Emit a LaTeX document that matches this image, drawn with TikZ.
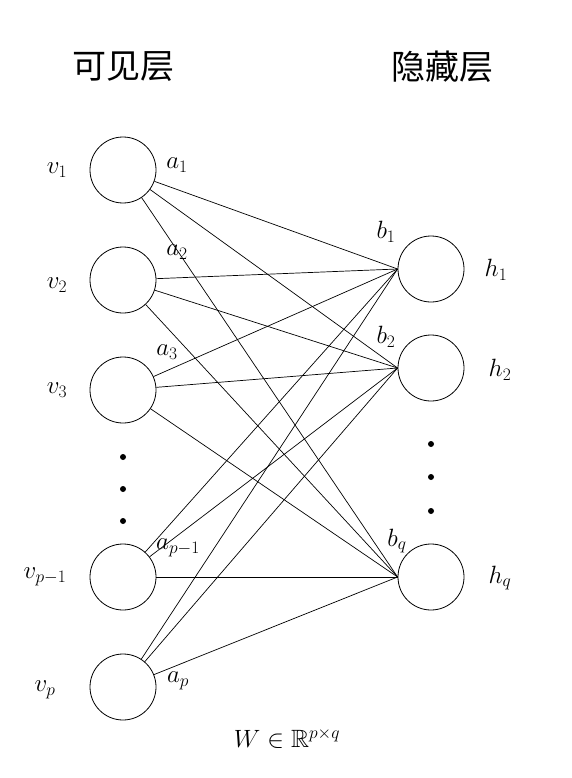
\RequirePackage{fix-cm}
\documentclass[tikz,border=0pt]{standalone}
\usepackage{amssymb}
\usepackage{fontspec}
\newfontfamily\cjk{Noto Sans CJK SC}
\begin{document}
\begin{tikzpicture}[x=1pt,y=-1pt,
  neuron/.style={circle,draw,line width=0.8pt,minimum size=66pt,inner sep=0pt},
  lab/.style={font=\fontsize{25}{30}\selectfont,inner sep=0pt},
  title/.style={font=\cjk\fontsize{34}{38}\selectfont,inner sep=0pt},
  edge/.style={line width=0.7pt},
  dotn/.style={circle,fill,inner sep=0pt,minimum size=6pt}]
\useasboundingbox (0,0) rectangle (572,778);
% titles
\node[title] (tv) at (123,67) {可见层};
\node[title] (th) at (442,67) {隐藏层};
% visible nodes
\node[neuron] (v1) at (123,170) {};
\node[neuron] (v2) at (123,280) {};
\node[neuron] (v3) at (123,390) {};
\node[neuron] (vp1) at (123,577) {};
\node[neuron] (vp) at (123,687) {};
% hidden nodes
\node[neuron] (h1) at (431,269) {};
\node[neuron] (h2) at (431,368) {};
\node[neuron] (hq) at (431,577) {};
% dots
\node[dotn] (d1) at (123,457) {};
\node[dotn] (d2) at (123,489) {};
\node[dotn] (d3) at (123,521) {};
\node[dotn] (e1) at (431,444) {};
\node[dotn] (e2) at (431,477) {};
\node[dotn] (e3) at (431,511) {};
% edges
\foreach \i in {v1,v2,v3,vp1,vp}
  \foreach \j in {h1,h2,hq}
    \draw[edge] (\i) -- (\j.west);
% visible labels
\node[lab] (lv1) at (57,170) {$v_1$};
\node[lab] (lv2) at (57,285) {$v_2$};
\node[lab] (lv3) at (57,390) {$v_3$};
\node[lab] (lvp1) at (45,577) {$v_{p-1}$};
\node[lab] (lvp) at (45,690) {$v_p$};
% a labels
\node[lab] (a1) at (177,165) {$a_1$};
\node[lab] (a2) at (177,252) {$a_2$};
\node[lab] (a3) at (167,352) {$a_3$};
\node[lab] (ap1) at (178,548) {$a_{p-1}$};
\node[lab] (ap) at (178,681) {$a_p$};
% b labels
\node[lab] (b1) at (386,232) {$b_1$};
\node[lab] (b2) at (386,337) {$b_2$};
\node[lab] (bq) at (397,541) {$b_q$};
% h labels
\node[lab] (lh1) at (496,270) {$h_1$};
\node[lab] (lh2) at (500,370) {$h_2$};
\node[lab] (lhq) at (500,578) {$h_q$};
% weight label
\node[lab] (w) at (287,738) {$W\in\mathbb{R}^{p\times q}$};
\end{tikzpicture}
\end{document}
